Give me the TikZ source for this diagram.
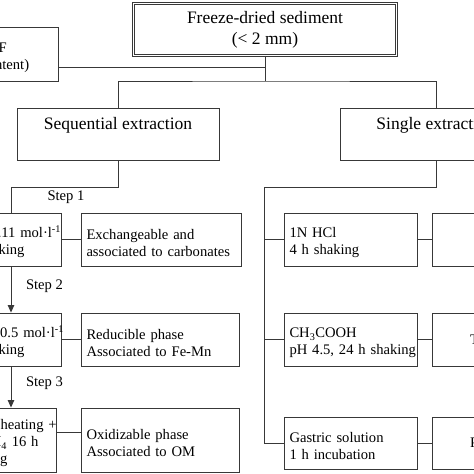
\documentclass[tikz,border=0pt]{standalone}
\usepackage{fontspec}
\setmainfont{Liberation Serif}
\usetikzlibrary{arrows.meta}

\newcommand{\lift}{\rule{0pt}{17pt}}

\tikzset{
	link/.style={draw=black!78, line width=0.9pt},
	box/.style={link, rectangle, inner sep=0pt, font=\fontsize{14.6}{17}\selectfont},
	cell/.style={box, align=left, inner xsep=5.5pt},
	headbox/.style={box, font=\fontsize{17.5}{21}\selectfont, align=center},
	steplabel/.style={font=\fontsize{14.6}{17}\selectfont, inner sep=0pt},
}

\begin{document}
\begin{tikzpicture}[x=1pt, y=-1pt, >={Triangle[width=6.5pt,length=7.5pt]}]
	\useasboundingbox (0,0) rectangle (474,474);
	\clip (0,0) rectangle (474,474);
	
	% Sample and total content
	\node[headbox, double=white, double distance=1.6pt, line width=0.8pt,
		minimum width=263pt, minimum height=52pt] (sample) at (265,29.5)
		{Freeze-dried sediment\\(< 2 mm)};
	\node[box, align=center, minimum width=140pt, minimum height=54pt] (xrf) at (-12,54)
		{\lift TXRF\\(total content)};
	
	% Two branches
	\node[headbox, minimum width=202pt, text height=21.5pt, text depth=30.5pt] (seq) at (118,134)
		{Sequential extraction};
	\node[headbox, minimum width=192pt, text height=21.5pt, text depth=30.5pt] (single) at (436,134)
		{Single extraction};
	
	% Sequential extraction: steps and phases
	\node[cell, text width=108pt, minimum height=53pt] (s1) at (1.5,239.5)
		{\mbox{\lift HOAc 0.11 mol·l\textsuperscript{-1}}\\\mbox{16 h shaking}};
	\node[cell, text width=108pt, minimum height=53pt] (s2) at (1.5,339.5)
		{\mbox{\lift NH\textsubscript{2}OH 0.5 mol·l\textsuperscript{-1}}\\\mbox{16 h shaking}};
	\node[cell, text width=127pt, minimum height=64pt] (s3) at (-13,440)
		{\mbox{\lift H\textsubscript{2}O\textsubscript{2} 85 °C heating +}\\\mbox{CH\textsubscript{3}COONH\textsubscript{4} 16 h}\\\mbox{pH 2, shaking}};
	\node[cell, text width=149pt, minimum height=53pt] (exch) at (161,239.5)
		{\lift Exchangeable and\\associated to carbonates};
	\node[cell, text width=147pt, minimum height=53pt] (red) at (160,339.5)
		{\lift Reducible phase\\Associated to Fe-Mn};
	\node[cell, text width=147pt, minimum height=64pt] (oxi) at (160,440)
		{\lift Oxidizable phase\\Associated to OM};
	
	\node[steplabel] (l1) at (66,197) {Step 1};
	\node[steplabel] (l2) at (44.5,286) {Step 2};
	\node[steplabel] (l3) at (44.5,383) {Step 3};
	
	% Single extractions and results
	\node[cell, text width=122pt, minimum height=53pt] (hcl) at (350.5,239.5)
		{\lift 1N HCl\\4 h shaking};
	\node[cell, text width=122pt, minimum height=53pt] (acet) at (350.5,339.5)
		{\mbox{\lift CH\textsubscript{3}COOH}\\\mbox{pH 4.5, 24 h shaking}};
	\node[cell, text width=122pt, minimum height=52pt] (gast) at (350.5,443)
		{\lift Gastric solution\\1 h incubation};
	\node[box, minimum width=112pt, minimum height=53pt] (r1) at (488,239.5) {};
	\node[box, minimum width=112pt, minimum height=53pt] (r2) at (488,339.5) {TCLP};
	\node[box, minimum width=112pt, minimum height=52pt] (r3) at (488,443) {PBET};
	
	% Connectors
	\coordinate (hub) at (265,81);
	\coordinate (tap) at (265,67);
	\coordinate (lane) at (11,187);
	\coordinate (rlane) at (264,187);
	\draw[link] (sample.south) -- (hub);
	\draw[link] (tap -| xrf.east) -- (tap);
	\draw[link] (seq.north) |- (hub) -| (single.north);
	
	\draw[link] (seq.south) |- (lane) -- (lane |- s1.north);
	\draw[link, ->] (lane |- s1.south) -- (lane |- s2.north);
	\draw[link, ->] (lane |- s2.south) -- (lane |- s3.north);
	\draw[link] (s1.east) -- (exch.west);
	\draw[link] (s2.east) -- (red.west);
	\draw[link] ([yshift=8pt]s3.east) -- ([yshift=8pt]s3.east -| oxi.west);
	
	\draw[link] (single.south) |- (rlane) |- (gast.west);
	\draw[link] (hcl.west -| rlane) -- (hcl.west);
	\draw[link] (acet.west -| rlane) -- (acet.west);
	\draw[link] (hcl.east) -- (r1.west);
	\draw[link] (acet.east) -- (r2.west);
	\draw[link] (gast.east) -- (r3.west);
\end{tikzpicture}
\end{document}
